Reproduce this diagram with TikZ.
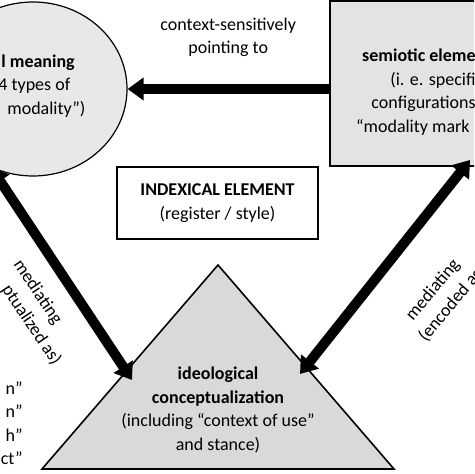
\documentclass[tikz,border=0pt]{standalone}
\usepackage{fontspec}
\setmainfont{Carlito}
\usetikzlibrary{arrows.meta, shapes.geometric, positioning}

\begin{document}
\begin{tikzpicture}[x=0.5pt,y=-0.5pt,font=\fontsize{9}{11.75}\selectfont,
    every node/.style={inner sep=0pt},
    shapebox/.style={draw, fill=black!10},
    bigarrow/.style={line width=5pt, -{Triangle[length=8pt,width=11pt]}},
    botharrow/.style={line width=5pt, {Triangle[length=8pt,width=11pt]}-{Triangle[length=8pt,width=11pt]}}]
    \useasboundingbox (0,0) rectangle (474,474);
    \clip (0,0) rectangle (474,474);

    \node[ellipse, shapebox, fill=black!9, line width=0.6pt, minimum width=94pt, minimum height=87pt] (meaning) at (33,89) {};
    \node[rectangle, shapebox, fill=black!11, line width=1.2pt, minimum width=110pt, minimum height=82.5pt] (semiotic) at (440,83.5) {};
    \node[rectangle, draw, line width=0.8pt, minimum width=100.5pt, minimum height=36pt, align=center] (index) at (217.5,203) {\textbf{INDEXICAL ELEMENT}\\(register / style)};
    \draw[shapebox, fill=black!15, line width=0.8pt] (218,265) coordinate (apex) -- (394,469) coordinate (baseR) -- (42,469) coordinate (baseL) -- cycle;
    \draw[line width=1.2pt] (baseL) -- (baseR);

    \node[align=left, anchor=west] (meaningtext) at (-2,86) {\hspace*{1.5pt}\textbf{l meaning}\\4 types of\\\hspace*{4.5pt}modality”)};
    \node[align=right, anchor=east] (semiotictext) at (476,92) {\textbf{semiotic eleme}\\(i. e. specifi\hspace*{3pt}\\configurations\\“modality mark\hspace*{3pt}};
    \node[align=center] (ideo) at (218,410) {\textbf{ideological}\\\textbf{conceptualization}\\(including “context of use”\\and stance)};
    \node[align=right, anchor=east] (list) at (23,423) {n”\\n”\\h”\\ct”};

    \coordinate (tipL) at (132,380);
    \coordinate (tipR) at (300,374);
    \coordinate (encR) at (470,160);

    \draw[bigarrow] (semiotic.west |- meaning.east) -- (meaning.east)
        node[midway, above=13.5pt, align=center] (pointing) {context-sensitively\\pointing to};
    \draw[botharrow] (meaning.-118) -- (tipL);
    \draw[botharrow] (tipR) -- (encR);

    \node[rotate=-56, align=right, anchor=east] (medL) at (67,357) {mediating\hspace*{16.5pt}\\ptualized as)};
    \node[rotate=50, align=left, anchor=west] (medR) at (413,332) {\hspace*{4pt}mediating\\(encoded as};
\end{tikzpicture}
\end{document}
